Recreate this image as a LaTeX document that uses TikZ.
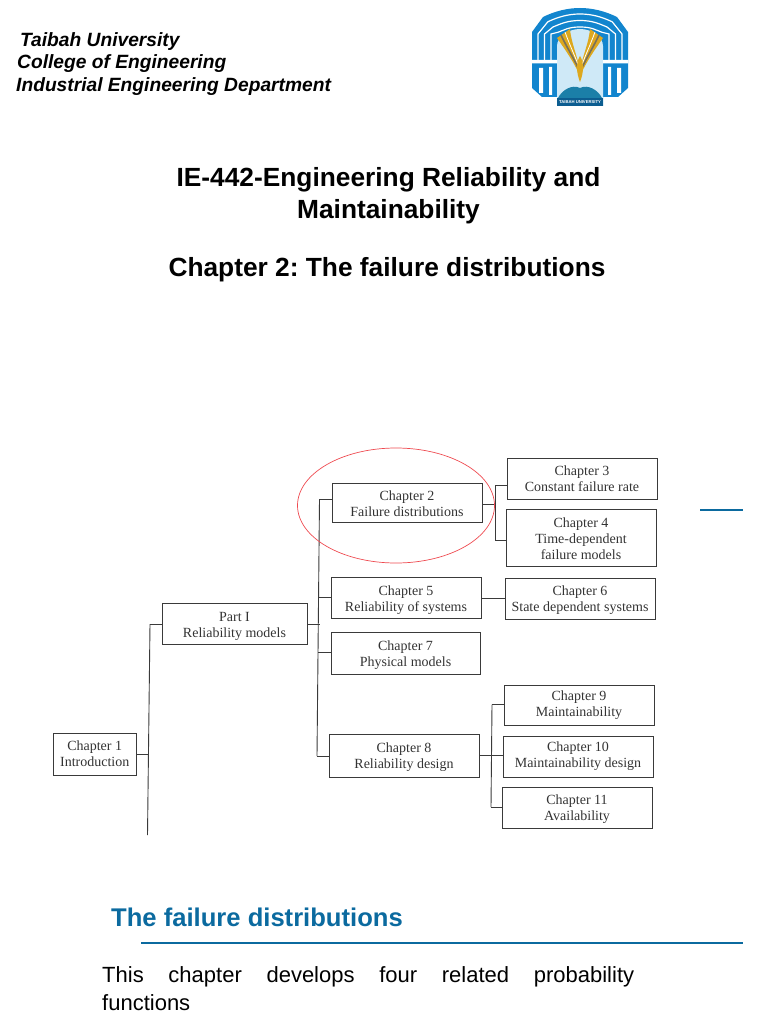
\documentclass[tikz,border=0pt]{standalone}
\usepackage{fontspec}
\setmainfont{Liberation Sans}
\newfontfamily\scanfont{Liberation Serif}
\definecolor{rulecolor}{HTML}{0B6A9F}
\definecolor{scanline}{HTML}{3A3A3A}
\definecolor{scantext}{HTML}{333333}
\definecolor{ringred}{HTML}{EE4A50}
\definecolor{logoblue}{HTML}{1285CE}
\definecolor{logopale}{HTML}{CFE9F7}
\definecolor{logogold}{HTML}{DDA81E}
\definecolor{logogrey}{HTML}{77705A}
\definecolor{logoteal}{HTML}{1B7FA8}
\newcommand{\lowerby}[1]{\rule{0pt}{#1}}
\tikzset{
  chapbox/.style={draw=scanline,line width=0.9pt,minimum width=150pt,minimum height=41pt,inner sep=0pt,
    align=center,text=scantext,font=\scanfont\fontsize{14pt}{16pt}\selectfont},
  link/.style={draw=scanline,line width=0.9pt},
  headline/.style={anchor=base west,inner sep=0pt,font=\bfseries\itshape\fontsize{19.2pt}{22pt}\selectfont},
  titleline/.style={anchor=base,inner sep=0pt,font=\bfseries\fontsize{26.3pt}{30pt}\selectfont}
}
\begin{document}
\frenchspacing
\begin{tikzpicture}[x=1pt,y=-1pt]
\useasboundingbox (0,0) rectangle (768,1024);

% header
\node [headline] (uni) at (20,47) {Taibah University};
\node [headline] (college) at (17,69) {College of Engineering};
\node [headline] (dept) at (16,92) {Industrial Engineering Department};
\node [titleline] (titlea) at (388.5,187) {IE-442-Engineering Reliability and};
\node [titleline] (titleb) at (388.5,218.5) {Maintainability};
\node [titleline] (titlec) at (387,276) {Chapter 2: The failure distributions};

% logo
\fill [logoblue] (532,88) -- (532,32) -- (543,17) .. controls (555,11) and (568,8) .. (580,8) .. controls (592,8) and (605,11) .. (617,17) -- (628,32) -- (628,88) -- (618,97) -- (603,97) -- (603,106) -- (557,106) -- (557,97) -- (542,97) -- cycle;
\foreach \inset in {6,12.5,19} {
  \draw [white,line width=1.2pt] (532+\inset,60) -- (532+\inset,34) -- (543+\inset*.8,17+\inset*.8) .. controls (555+\inset*.5,11+\inset) and (568,8+\inset) .. (580,8+\inset) .. controls (592,8+\inset) and (605-\inset*.5,11+\inset) .. (617-\inset*.8,17+\inset*.8) -- (628-\inset,34) -- (628-\inset,60);
}
\fill [logopale] (557,100) -- (557,46) .. controls (557,37) and (568,29) .. (580,29) .. controls (592,29) and (603,37) .. (603,46) -- (603,100) -- cycle;
\fill [white] (532,60) rectangle (557,63.5) (603,60) rectangle (628,63.5);
\fill [white] (539,68) rectangle (543,93) (617,68) rectangle (621,93);
\fill [white] (549,67) rectangle (552,95) (608,67) rectangle (611,95);
\foreach \side in {1,-1} {
  \begin{scope}[shift={(580,0)},xscale=\side]
    \fill [logogold] (0,76) .. controls (-6,62) and (-16,48) .. (-23,38) -- (-10,29) .. controls (-9,42) and (-3,55) .. (0,70) -- cycle;
    \draw [logogrey,line width=1.6pt] (0,72) .. controls (-5,60) and (-13,48) .. (-19,35);
    \draw [white,line width=0.8pt] (0,70) .. controls (-4,58) and (-10,46) .. (-15,32);
  \end{scope}
}
\fill [logogold] (580,82) .. controls (576,72) and (576,62) .. (580,56) .. controls (584,62) and (584,72) .. (580,82) -- cycle;
\fill [logoteal] (558,98) .. controls (562,90) and (572,84) .. (580,88) .. controls (588,84) and (598,90) .. (602,98) -- cycle;
\fill [logoblue!70!black] (557,98) rectangle (603,106);
\node [inner sep=0pt,text=white,font=\bfseries\fontsize{4.2pt}{4.2pt}\selectfont] (logotext) at (580,102) {TAIBAH UNIVERSITY};

% boxes
\node [chapbox,minimum width=82.5pt,minimum height=42pt] (ch1) at (94.7,754) {Chapter 1\\Introduction};
\node [chapbox,minimum width=145pt] (part1) at (234.5,624.3) {\lowerby{12.5pt}Part I\\Reliability models};
\node [chapbox,minimum height=39pt] (ch2) at (407,502.5) {\lowerby{11.5pt}Chapter 2\\Failure distributions};
\node [chapbox] (ch3) at (582,478.5) {Chapter 3\\Constant failure rate};
\node [chapbox,minimum height=57pt] (ch4) at (581,537.5) {\lowerby{11.5pt}Chapter 4\\Time-dependent\\failure models};
\node [chapbox] (ch5) at (406,597.5) {\lowerby{15.5pt}Chapter 5\\Reliability of systems};
\node [chapbox] (ch6) at (580,598.5) {\lowerby{13.5pt}Chapter 6\\State dependent systems};
\node [chapbox,minimum width=149pt,minimum height=42pt] (ch7) at (405.5,653) {\lowerby{13.5pt}Chapter 7\\Physical models};
\node [chapbox,minimum height=43pt] (ch8) at (404,755.5) {\lowerby{13.5pt}Chapter 8\\Reliability design};
\node [chapbox,minimum height=40pt] (ch9) at (579,705) {Chapter 9\\Maintainability};
\node [chapbox] (ch10) at (578,756.5) {Chapter 10\\Maintainability design};
\node [chapbox] (ch11) at (577,807.5) {\lowerby{13.5pt}Chapter 11\\Availability};

% junction points
\coordinate (spinetop) at (150,624);
\coordinate (spineend) at (147.5,835);
\coordinate (trunktop) at (319.5,499);
\coordinate (trunkend) at (317,756);
\coordinate (forktop) at (495,485);
\coordinate (forkend) at (495,540.5);
\coordinate (lowertop) at (492,704.5);
\coordinate (lowerend) at (491,807);

% connectors
\draw [link] (spinetop) -- (spineend);
\draw [link] (ch1.east) -- (ch1.east -| spineend);
\draw [link] (spinetop) -- (spinetop -| part1.west);
\draw [link] (trunktop) -- (trunkend);
\draw [link] (part1.east) -- (part1.east -| trunktop);
\draw [link] (trunktop) -- (trunktop -| ch2.west);
\draw [link] (ch5.west |- 0,597) -- (318.5,597);
\draw [link] (ch7.west |- 0,652) -- (318,652);
\draw [link] (trunkend) -- (trunkend -| ch8.west);
\draw [link] (ch2.east |- 0,504) -- (495,504);
\draw [link] (forktop) -- (forkend);
\draw [link] (forktop) -- (forktop -| ch3.west);
\draw [link] (forkend) -- (forkend -| ch4.west);
\draw [link] (ch5.east |- 0,598) -- (ch6.west |- 0,598);
\draw [link] (ch8.east) -- (ch8.east -| ch10.west);
\draw [link] (lowertop) -- (lowerend);
\draw [link] (lowertop) -- (lowertop -| ch9.west);
\draw [link] (lowerend) -- (lowerend -| ch11.west);

% ring
\draw [ringred,line width=0.7pt] (396,505.5) ellipse [x radius=98.5pt,y radius=57.5pt];

% bottom part
\coordinate (marka) at (700,510);
\coordinate (markb) at (743,510);
\draw [rulecolor,line width=1.6pt] (marka) -- (markb);
\node [anchor=base west,inner sep=0pt,text=rulecolor,font=\bfseries\fontsize{25.6pt}{28pt}\selectfont] (heading) at (111,926) {The failure distributions};
\coordinate (rulea) at (141,943);
\coordinate (ruleb) at (743,943);
\draw [rulecolor,line width=1.6pt] (rulea) -- (ruleb);
\node [anchor=north west,inner sep=0pt,text width=532pt,align=justify,font=\fontsize{22pt}{28pt}\selectfont] (body) at (102,966) {This chapter develops four related probability\linebreak functions};
\end{tikzpicture}
\end{document}
